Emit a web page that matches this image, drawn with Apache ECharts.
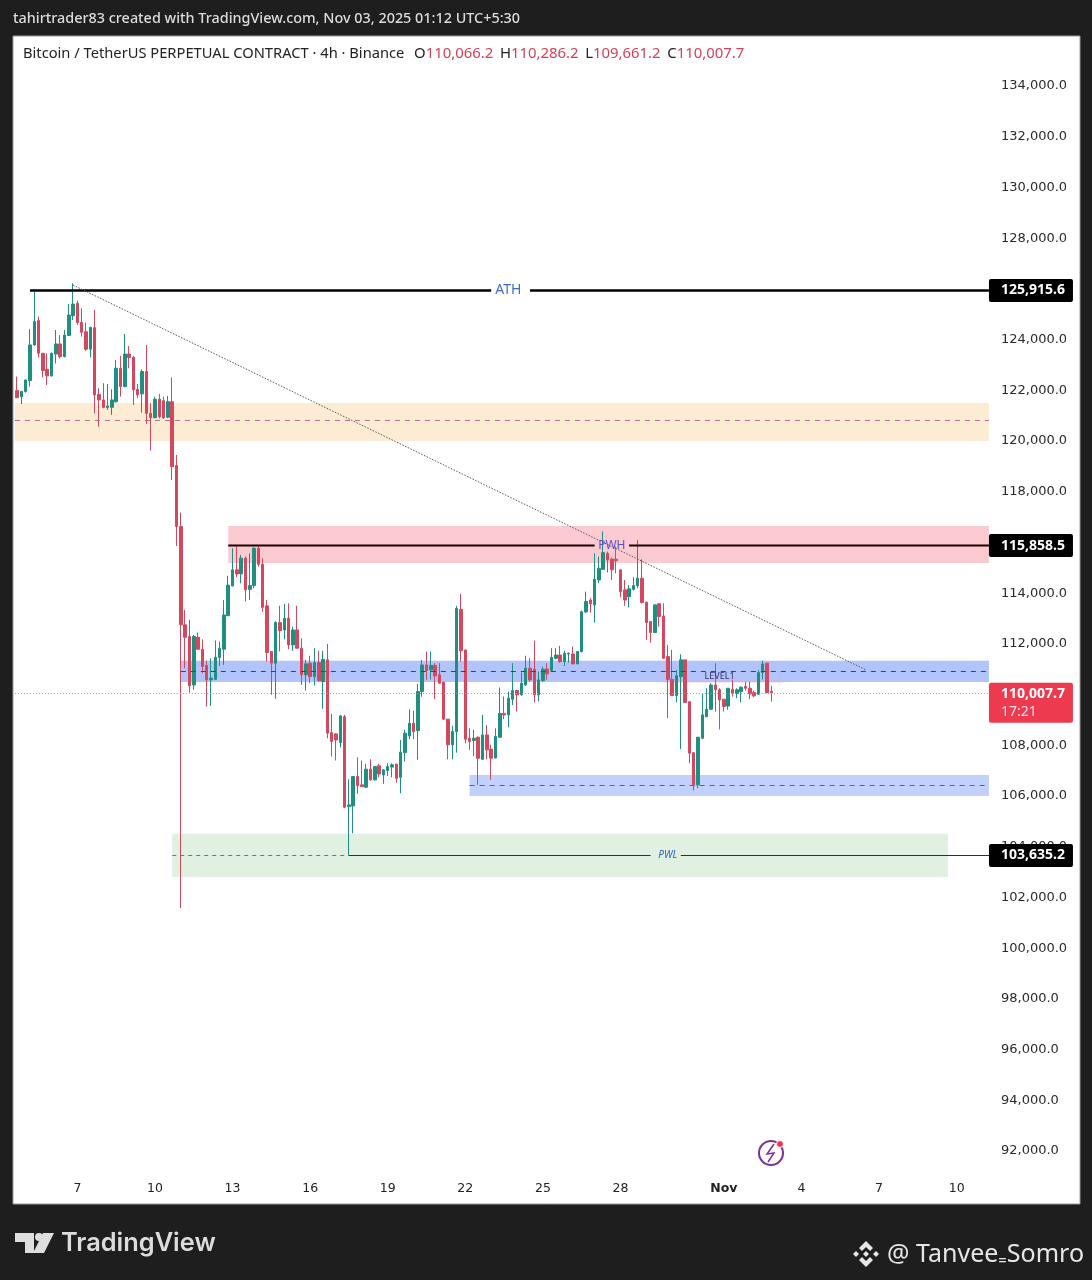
<!DOCTYPE html>
<html><head><meta charset="utf-8">
<style>html,body{margin:0;padding:0;background:#1e1e1e}#c{width:1092px;height:1280px}</style>
<script src="https://cdn.jsdelivr.net/npm/echarts@6/dist/echarts.min.js"></script>
</head><body><div id="c"></div>
<script>
// ---------- candle values (4h bars) ----------
const opens = [121930,121690,121890,122320,123730,124690,123400,122770,122510,123370,
123770,123270,124100,124880,125370,124620,124250,123560,124410,121780,
121560,121260,121270,121490,122810,122090,123370,123240,121980,121800,
122680,121030,120860,121590,121530,120880,121490,118970,116570,112690,
112230,110320,112200,111730,111090,110520,110540,111400,111730,113050,
114230,114860,114700,115320,114090,114240,115710,115080,113440,111640,
111180,112780,112490,112950,111900,112490,111770,110720,111180,110650,
111200,110450,111310,108440,108390,108050,109070,105520,105550,106710,
106380,106290,107000,106580,107130,106770,106940,107080,107200,106680,
107650,108310,108810,108520,110060,111110,110910,111090,110720,110430,
108970,107960,108480,113300,111700,108220,108130,108260,107390,108350,
107790,107440,108260,109200,109140,109760,110100,109930,110320,110980,
110940,109930,110490,110950,110890,111370,111500,111240,111540,111540,
111150,111640,113200,113670,113480,114460,114880,115510,115280,115280,
114860,114070,113800,114090,114230,114530,113580,112820,112390,113520,
113040,111440,110540,109900,110650,111310,109660,107650,106380,108220,
109070,109360,110320,110130,109760,109490,110150,109990,110060,110260,
110190,110020,109950,110810,111180,110066.2];
const closes = [121650,121890,122350,123730,124650,123400,122720,122510,123400,123770,
123270,124120,124910,125340,124610,124230,123560,124420,121760,121560,
121260,121320,121560,122810,122090,123370,123230,121960,121760,122680,
121030,120860,121590,120900,120860,121490,118930,116570,112690,112200,
110290,112230,111730,111050,110520,110590,111410,111770,113080,114260,
114860,114700,115320,114070,114240,115710,115080,113380,111600,111180,
112790,112460,112950,111900,112490,111770,110720,111150,110650,111200,
110490,111330,108420,108090,108150,109100,105500,105590,106710,106350,
106310,107000,106580,107100,106810,106970,107100,107170,106640,107670,
108420,108810,108480,110060,111110,110890,111090,110680,110390,108970,
107960,108480,113340,111670,108180,108090,108220,107430,108350,107760,
107430,108290,109200,109140,109800,110100,109930,110390,110980,110520,
109930,110520,110940,110760,111410,111500,111240,111570,111570,111150,
111640,113210,113610,113520,114490,114920,115540,115250,114860,115220,
114000,113670,114110,114240,114530,113570,112780,112390,113480,113020,
111370,110540,109900,110680,111310,109630,107630,106380,108260,109140,
109360,110320,110130,109730,109470,110190,109990,110130,110230,110190,
109970,109890,110810,111150,110020,110007.7];
const highs = [122480,121930,122370,124350,125830,124850,123400,123400,123430,124320,
124120,124320,125340,126160,125480,125170,124610,124450,125110,122020,
122220,122190,121980,123140,123300,124160,123690,123300,122190,122770,
123730,121430,121690,121800,121690,121720,122450,119390,117120,113280,
112890,112290,112380,112120,111280,111370,112070,112030,113670,114620,
115710,115780,115450,115380,115510,115750,115780,115320,113670,111640,
112820,113440,113520,113540,112620,113440,112160,111310,111470,111770,
111670,111670,111940,109180,108420,109140,109140,106600,106730,107470,
107340,107210,107390,107100,107210,107000,107230,107230,107210,108150,
108550,109360,109310,110360,111310,111640,111640,111180,111180,110450,
108980,108710,113440,113910,111700,108610,108550,108290,109140,108740,
107960,108610,110220,109860,110060,111180,110130,110810,111470,111370,
112070,110850,111040,111180,111770,111770,111860,111670,111600,111830,
111640,113250,114000,113740,115510,115380,116370,115580,115350,115780,
114860,114460,114260,114570,116040,115280,113610,112820,113480,113540,
113540,111900,111700,110910,111530,111310,109660,107650,108260,109970,
110190,110390,111180,110190,109760,110190,110520,110190,110260,110450,
110450,110100,110910,111280,111200,110286.2];
const lows = [121630,121400,121850,122090,123690,123240,122450,122150,122480,123000,
123200,123240,124100,124710,124520,124060,123500,123240,121030,120510,
121230,121170,120970,121460,121690,122060,122810,121360,121630,121060,
120610,119560,120840,120840,120810,120840,118400,115800,101520,110980,
110020,110130,111700,110780,109470,109490,110540,111070,111110,113040,
114200,114570,114330,113610,113670,114130,114990,113210,111240,109930,
109770,111640,112120,111730,111670,111770,110320,110100,110390,110300,
110450,109380,108220,107500,107340,107860,105460,103600,104470,106030,
106310,106250,106550,106550,106680,106420,106730,106680,106470,106050,
107300,108180,108180,107370,109860,110520,110540,109760,110390,108940,
107390,107390,107650,111240,108020,107760,107520,106380,107360,107390,
106580,107430,108220,108970,108650,109530,109270,109900,110280,110450,
109630,109670,110450,110520,110850,111330,111200,111070,111200,111150,
111150,111600,113170,113170,112780,114330,114860,114750,114460,114720,
113780,113440,113380,114040,114130,113540,112100,111990,112390,112620,
111370,109010,109890,109630,107790,109630,107230,106160,106250,108180,
109050,109340,109270,108570,109270,109340,109860,109800,109630,110100,
109760,109840,109930,110540,109990,109661.2];

// ---------- axis ----------
const slotCount = 226;
const categories = Array.from({length: slotCount}, (_, i) => 'bar' + i);
const tickSlots  = [14,32,50,68,86,104,122,140,164,182,200,218];
const tickLabels = ['7','10','13','16','19','22','25','28','Nov','4','7','10'];
const priceMin = 90000, priceMax = 136000, priceStep = 2000;

// ---------- zones on the chart (prices, bar slots) ----------
const zoneNames = ['orange','pink','blue','blueLow','green','level1'];
const zoneHighs = [121440,116590,111270,106770,104450,110490];
const zoneLows  = [119940,115130,110440,105940,102750,110420];
const zoneFrom  = [0,49,38,105,36,150];
const zoneTo    = [225,225,225,225,216,178];

// ---------- levels ----------
const athPrice = 125915.6, pwhPrice = 115858.5, pwlPrice = 103635.2, lastPrice = 110007.7;
const countdown = '17:21';
const orangeMid = 120730, blueMid = 110870, blueLowMid = 106340;
const trendStart = [13,126090], trendEnd = [197,110910];

const pageFont = '"DejaVu Sans"';
const tight = '"Noto Sans"';
const last = slotCount - 1;
const levelNudge = 1;

const zoneColors = ['rgba(252,225,185,.62)','rgba(250,170,180,.62)','rgba(140,165,250,.66)','rgba(150,175,250,.58)','rgba(190,225,190,.46)','rgba(245,170,185,.6)'];
const segments = [
  {p:athPrice,f:3,t:110,w:2.5,c:'#000',n:1},{p:athPrice,f:119,t:last,w:2.5,c:'#000',n:1},
  {p:pwhPrice,f:49,t:134,w:2,c:'#1c0006',n:1},{p:pwhPrice,f:142,t:last,w:2,c:'#1c0006',n:1},
  {p:pwlPrice,f:36,t:77,w:1,c:'#a050c0',d:[4,4],n:1},
  {p:pwlPrice,f:77,t:147,w:1,c:'#1f3a2c',n:1},{p:pwlPrice,f:154,t:last,w:1,c:'#1f3a2c',n:1},
  {p:orangeMid,f:0,t:last,w:1,c:'#b5708f',d:[5,5]},
  {p:blueMid,f:38,t:last,w:1,c:'#3d3a8c',d:[5,5]},
  {p:blueLowMid,f:105,t:last,w:1,c:'#7050c0',d:[5,5]},
  {p:lastPrice,f:0,t:last,w:1,c:'#a89a9a',d:[1,2],n:1}
];
const notes = [
  {text:'ATH',s:114,p:athPrice,size:14,c:'#3f6fc4',n:1},
  {text:'PWH',s:138,p:pwhPrice,size:12,c:'#5a55cc',n:1},
  {text:'PWL',s:151,p:pwlPrice,size:10,c:'#2f62c8',it:true,n:1},
  {text:'LEVEL1',s:163,p:110640,size:9,c:'#2d3170'}
];
const tags = [
  {p:athPrice,text:'125,915.6',bg:'#000'},
  {p:pwhPrice,text:'115,858.5',bg:'#000'},
  {p:pwlPrice,text:'103,635.2',bg:'#000'},
  {p:lastPrice,text:'110,007.7',sub:countdown,bg:'#ee3a4f'}
];

const fmt = v => v.toLocaleString('en-US',{minimumFractionDigits:1,maximumFractionDigits:1});
const edgeX = (api, params, s) => {
  const cs = params.coordSys;
  if (s <= 0) return cs.x;
  if (s >= last) return cs.x + cs.width;
  return api.coord([s, priceMin])[0];
};

const chart = echarts.init(document.getElementById('c'), null, {width:1092, height:1280});
chart.setOption({
  animation:false,
  backgroundColor:'#1e1e1e',
  grid:{left:14.9, width:974.06, top:33.8, height:1166.4},
  xAxis:{type:'category',data:categories,boundaryGap:true,
    axisLine:{show:false},axisTick:{show:false},splitLine:{show:false},
    axisLabel:{inside:true,margin:5,hideOverlap:false,color:'#222',fontFamily:pageFont,fontSize:12.5,
      interval:i=>tickSlots.includes(i),
      formatter:v=>{const l=tickLabels[tickSlots.indexOf(+v.slice(3))];return l==='Nov'?'{b|Nov}':l;},
      rich:{b:{fontWeight:'bold',fontFamily:pageFont,fontSize:12.5,color:'#222'}}}},
  yAxis:{type:'value',position:'right',min:priceMin,max:priceMax,interval:priceStep,
    axisLine:{show:false},axisTick:{show:false},splitLine:{show:false},
    axisLabel:{margin:12,showMinLabel:false,showMaxLabel:false,formatter:v=>'{t|'+fmt(v)+'}',
      rich:{t:{color:'#2a2a2a',fontFamily:pageFont,fontSize:13,padding:[3,0,0,0]}}}},
  series:[
    {type:'custom',name:'zones',coordinateSystem:'cartesian2d',z:1,clip:false,silent:true,
      data:zoneNames.map((n,i)=>[zoneFrom[i],zoneHighs[i]]),
      renderItem:(params,api)=>{
        const i=params.dataIndex;
        const x1=edgeX(api,params,zoneFrom[i]),x2=edgeX(api,params,zoneTo[i]);
        const y1=api.coord([0,zoneHighs[i]])[1],y2=api.coord([0,zoneLows[i]])[1];
        return {type:'rect',shape:{x:x1,y:y1,width:x2-x1,height:y2-y1},style:{fill:zoneColors[i]}};
      }},
    {type:'candlestick',name:'BTCUSDT.P',z:3,barWidth:3,
      data:opens.map((o,i)=>[o,closes[i],lows[i],highs[i]]),
      itemStyle:{color:'#1f8f7f',color0:'#d3485f',borderColor:'#1f8f7f',borderColor0:'#d3485f',borderWidth:1}},
    {type:'custom',name:'levels',coordinateSystem:'cartesian2d',z:4,clip:false,silent:true,
      data:segments.map(s=>[s.f,s.p]),
      renderItem:(params,api)=>{
        const s=segments[params.dataIndex];
        let y=api.coord([0,s.p])[1]+(s.n?levelNudge:0);
        if(s.w===1)y=Math.floor(y)+.5;
        return {type:'line',shape:{x1:edgeX(api,params,s.f),y1:y,x2:edgeX(api,params,s.t),y2:y},
          style:{stroke:s.c,lineWidth:s.w,lineDash:s.d||null,fill:null}};
      }},
    {type:'line',name:'trend',z:4,symbol:'none',silent:true,
      data:[[trendStart[0],trendStart[1]],[trendEnd[0],trendEnd[1]]],
      lineStyle:{color:'#555',width:1,type:[1.5,1.5]}},
    {type:'custom',name:'notes',coordinateSystem:'cartesian2d',z:5,clip:false,silent:true,
      data:notes.map(n=>[n.s,n.p]),
      renderItem:(params,api)=>{
        const n=notes[params.dataIndex];const pt=api.coord([n.s,n.p]);
        return {type:'text',style:{text:n.text,x:pt[0],y:pt[1]+(n.n?levelNudge:0),align:'center',verticalAlign:'middle',
          fill:n.c,fontSize:n.size,fontFamily:tight,fontStyle:n.it?'italic':'normal'}};
      }},
    {type:'custom',name:'tags',coordinateSystem:'cartesian2d',z:6,clip:false,silent:true,
      data:tags.map(t=>[last,t.p]),
      renderItem:(params,api)=>{
        const t=tags[params.dataIndex];const y=api.coord([0,t.p])[1]+levelNudge;
        const x=params.coordSys.x+params.coordSys.width;
        const kids=[{type:'rect',shape:{x:x,y:t.sub?y-11:y-11.5,width:84,height:t.sub?40:23,r:2},style:{fill:t.bg}},
          {type:'text',style:{text:t.text,x:x+12,y:y,verticalAlign:'middle',fill:'#fff',fontSize:14,fontWeight:'bold',fontFamily:tight}}];
        if(t.sub)kids.push({type:'text',style:{text:t.sub,x:x+12,y:y+18,verticalAlign:'middle',fill:'#fde',fontSize:14,fontFamily:tight}});
        return {type:'group',children:kids};
      }}
  ],
  graphic:[
    {type:'rect',z:-10,silent:true,shape:{x:13,y:36,width:1067,height:1168},style:{fill:'#fff',stroke:'#9a9a9a',lineWidth:1}},
    {type:'text',z:10,style:{text:'tahirtrader83 created with TradingView.com, Nov 03, 2025 01:12 UTC+5:30',x:13,y:19,verticalAlign:'middle',fill:'#dcdcdc',fontFamily:tight,fontWeight:500,fontSize:14.4}},
    {type:'text',z:10,style:{text:'Bitcoin / TetherUS PERPETUAL CONTRACT · 4h · Binance',x:23,y:54,verticalAlign:'middle',fill:'#222',fontFamily:tight,fontSize:14.7}},
    {type:'text',z:10,style:{rich:{k:{fill:'#222',fontFamily:tight,fontSize:14.9},v:{fill:'#d3405a',fontFamily:tight,fontSize:14.9}},
       text:'{k|O}{v|110,066.2}  {k|H}{v|110,286.2}  {k|L}{v|109,661.2}  {k|C}{v|110,007.7}',x:414,y:54,verticalAlign:'middle'}},
    // lightning mark
    {type:'circle',z:10,silent:true,shape:{cx:771,cy:1153,r:12},style:{fill:'none',stroke:'#7b2e9c',lineWidth:2}},
    {type:'polyline',z:10,silent:true,shape:{points:[[774,1144],[767,1154],[774,1153],[768,1162]]},style:{fill:'none',stroke:'#7b2e9c',lineWidth:1.5}},
    {type:'circle',z:11,silent:true,shape:{cx:780,cy:1144,r:3.5},style:{fill:'#e8394f',stroke:'#fff',lineWidth:1}},
    // TradingView logo
    {type:'polygon',z:10,silent:true,shape:{points:[[15,1233],[34,1233],[34,1253],[25,1253],[25,1242],[15,1242]]},style:{fill:'#dedede'}},
    {type:'circle',z:10,silent:true,shape:{cx:39,cy:1237,r:4},style:{fill:'#dedede'}},
    {type:'polygon',z:10,silent:true,shape:{points:[[43,1233],[54,1233],[44,1253],[33,1253]]},style:{fill:'#dedede'}},
    {type:'text',z:10,style:{text:'TradingView',x:61,y:1243,verticalAlign:'middle',fill:'#dcdcdc',fontFamily:'Inter',fontWeight:600,fontSize:25.4}},
    // Binance mark + handle
    {type:'polygon',z:10,silent:true,shape:{points:[[866,1241],[873,1248],[870,1251],[866,1247],[862,1251],[859,1248]]},style:{fill:'#e6e6e6'}},
    {type:'polygon',z:10,silent:true,shape:{points:[[866,1267],[873,1260],[870,1257],[866,1261],[862,1257],[859,1260]]},style:{fill:'#e6e6e6'}},
    {type:'polygon',z:10,silent:true,shape:{points:[[866,1251],[869,1254],[866,1257],[863,1254]]},style:{fill:'#e6e6e6'}},
    {type:'polygon',z:10,silent:true,shape:{points:[[856,1251],[859,1254],[856,1257],[853,1254]]},style:{fill:'#e6e6e6'}},
    {type:'polygon',z:10,silent:true,shape:{points:[[876,1251],[879,1254],[876,1257],[873,1254]]},style:{fill:'#e6e6e6'}},
    {type:'text',z:10,style:{text:'@ Tanvee₌Somro',x:1084,y:1255,align:'right',verticalAlign:'middle',fill:'#e6e6e6',fontFamily:'"Noto Sans"',fontSize:25}}
  ]
});
</script></body></html>
